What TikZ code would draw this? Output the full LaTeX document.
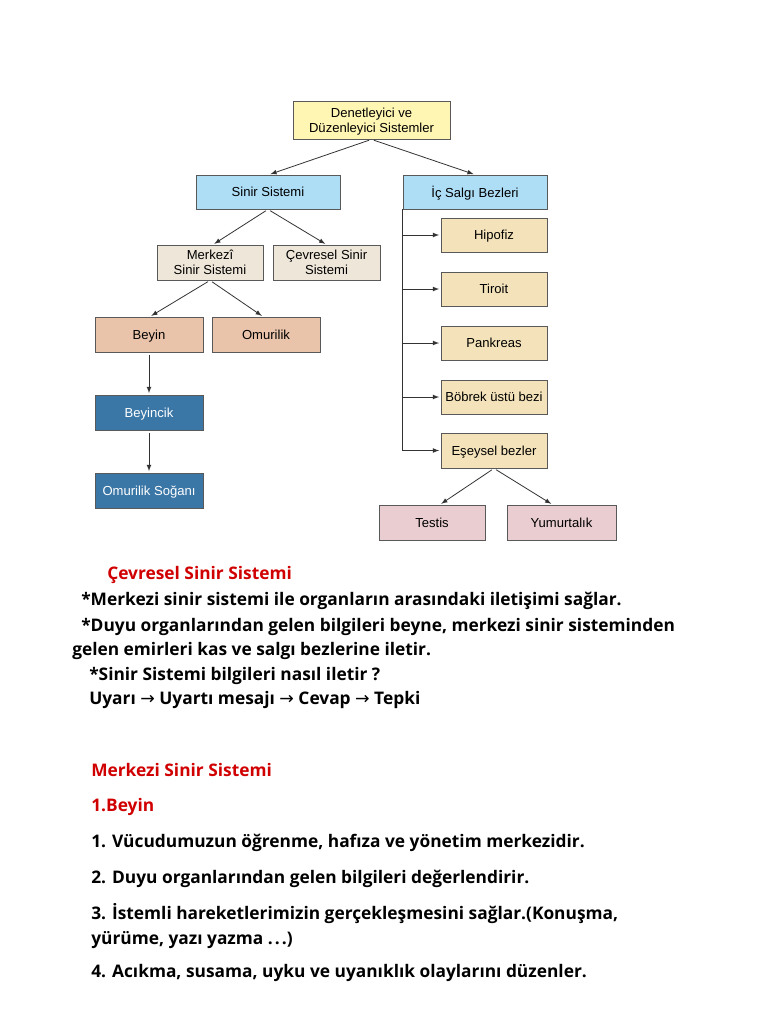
\documentclass[tikz,border=0pt]{standalone}
\usepackage{fontspec}
\setmainfont{Liberation Sans}
\newfontfamily\notefont{Open Sans}
\newfontfamily\arrowfont{DejaVu Sans}
\usetikzlibrary{positioning}

\definecolor{topyellow}{HTML}{FFF6B4}
\definecolor{skyblue}{HTML}{AEDDF6}
\definecolor{sand}{HTML}{EFE6DA}
\definecolor{salmon}{HTML}{E9C3AA}
\definecolor{steel}{HTML}{3A76A6}
\definecolor{wheat}{HTML}{F4E3BA}
\definecolor{rosy}{HTML}{E9CDD1}
\definecolor{notered}{HTML}{D10000}

\def\pxl{0.75pt}
\newcommand{\ra}{{\arrowfont\mdseries →}}

\tikzset{
    box/.style={draw=black!65, line width=0.6pt, minimum width=106*\pxl,
        minimum height=35*\pxl, inner sep=1pt, align=center, text depth=0pt,
        font=\fontsize{9.8}{11.4}\selectfont},
    arrow/.style={-latex, draw=black!80, line width=0.6pt,
        shorten <=2.5*\pxl, shorten >=1.5*\pxl},
    note/.style={anchor=base west, inner sep=0pt,
        font=\notefont\bfseries\fontsize{13}{15}\selectfont},
    title/.style={note, text=notered},
}

\begin{document}
\begin{tikzpicture}[x=0.75pt, y=-0.75pt]
    \useasboundingbox[fill=white] (0,0) rectangle (768,1024);

    % top of the tree
    \node[box, fill=topyellow, minimum width=157*\pxl, minimum height=38*\pxl] (top) at (371.5,120) {Denetleyici ve\\Düzenleyici Sistemler};
    \node[box, fill=skyblue, minimum width=144*\pxl, minimum height=34*\pxl] (sinir) at (268,192) {Sinir Sistemi};
    \node[box, fill=skyblue, minimum width=144*\pxl, minimum height=34*\pxl] (ic) at (475,192) {İç Salgı Bezleri};

    % nervous system
    \node[box, fill=sand] (merkez) at (210,262.5) {Merkezî\\Sinir Sistemi};
    \node[box, fill=sand, minimum width=107*\pxl] (cevre) at (326.5,262.5) {Çevresel Sinir\\Sistemi};
    \node[box, fill=salmon, minimum width=108*\pxl] (beyin) at (149,334.5) {Beyin};
    \node[box, fill=salmon, minimum width=108*\pxl] (omurilik) at (266,334.5) {Omurilik};
    \node[box, fill=steel, text=white, minimum width=108*\pxl] (beyincik) at (149,412.5) {Beyincik};
    \node[box, fill=steel, text=white, minimum width=108*\pxl] (sogan) at (149,490.5) {Omurilik Soğanı};

    % glands
    \node[box, fill=wheat, minimum height=34*\pxl] (hipofiz) at (494,235) {Hipofiz};
    \node[box, fill=wheat, minimum height=34*\pxl] (tiroit) at (494,289) {Tiroit};
    \node[box, fill=wheat, minimum height=34*\pxl] (pankreas) at (494,343) {Pankreas};
    \node[box, fill=wheat, minimum height=34*\pxl] (bobrek) at (494,397) {Böbrek üstü bezi};
    \node[box, fill=wheat, minimum height=35*\pxl] (eseysel) at (494,450.5) {Eşeysel bezler};
    \node[box, fill=rosy] (testis) at (432,522.5) {Testis};
    \node[box, fill=rosy, minimum width=109*\pxl] (yumurta) at (561.5,522.5) {Yumurtalık};

    \draw[arrow] (top.south) -- ([xshift=1*\pxl]sinir.north);
    \draw[arrow] (top.south) -- (ic.north);
    \draw[arrow] (sinir.south) -- ([xshift=3*\pxl]merkez.north);
    \draw[arrow] (sinir.south) -- (cevre.north);
    \draw[arrow] (merkez.south) -- ([xshift=1*\pxl]beyin.north);
    \draw[arrow] (merkez.south) -- ([xshift=-3*\pxl]omurilik.north);
    \draw[arrow] (beyin.south) -- (beyincik.north);
    \draw[arrow] (beyincik.south) -- (sogan.north);

    \draw[draw=black!80, line width=0.6pt] (ic.south west) -- (ic.south west |- eseysel.west);
    \foreach \g in {hipofiz, tiroit, pankreas, bobrek, eseysel}
        \draw[arrow, shorten <=0pt] (ic.south west |- \g.west) -- (\g.west);

    \draw[arrow] (eseysel.south) -- ([xshift=8*\pxl]testis.north);
    \draw[arrow] (eseysel.south) -- ([xshift=-9*\pxl]yumurta.north);

    % text below
    \node[title] (t1) at (107,579) {Çevresel Sinir Sistemi};
    \node[note] (l1) at (81,605) {*Merkezi sinir sistemi ile organların arasındaki iletişimi sağlar.};
    \node[note] (l2) at (81,631) {*Duyu organlarından gelen bilgileri beyne, merkezi sinir sisteminden};
    \node[note] (l3) at (72,655) {gelen emirleri kas ve salgı bezlerine iletir.};
    \node[note] (l4) at (89,680) {*Sinir Sistemi bilgileri nasıl iletir ?};
    \node[note] (l5) at (89,704) {Uyarı \ra{} Uyartı mesajı \ra{} Cevap \ra{} Tepki};

    \node[title] (t2) at (91,776) {Merkezi Sinir Sistemi};
    \node[title] (t3) at (91,811) {1.Beyin};
    \node[note] (m1) at (91,847) {1. Vücudumuzun öğrenme, hafıza ve yönetim merkezidir.};
    \node[note] (m2) at (91,883) {2. Duyu organlarından gelen bilgileri değerlendirir.};
    \node[note] (m3) at (91,919) {3. İstemli hareketlerimizin gerçekleşmesini sağlar.(Konuşma,};
    \node[note] (m4) at (91,944) {yürüme, yazı yazma .\kern1.5pt.\kern1.5pt.)};
    \node[note] (m5) at (91,977) {4. Acıkma, susama, uyku ve uyanıklık olaylarını düzenler.};
\end{tikzpicture}
\end{document}
